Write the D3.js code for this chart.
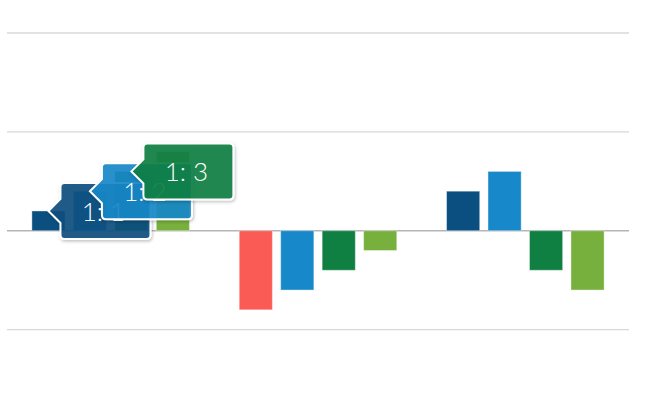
<!DOCTYPE html>
<html>
<head>
<meta charset="utf-8">
<script src="https://cdn.jsdelivr.net/npm/d3@7"></script>
<style>
    body { margin: 0; background: #fff; }
    svg { display: block; font-family: "Lato", "Open Sans", sans-serif; }
</style>
</head>
<body>
<div class="chart"></div>
<script>
// chart data
const categories = ["1", "2", "3"];
const seriesNames = ["Series 1", "Series 2", "Series 3", "Series 4"];
const series1 = [1, -4, 2];
const series2 = [2, -3, 3];
const series3 = [3, -2, -2];
const series4 = [4, -1, -3];
const allSeries = [series1, series2, series3, series4];
const gridValues = [-5, 0, 5, 10];

// tooltips that are open on the first category
const tooltipCategory = "1";
const tooltipSeries = [0, 1, 2];

const colors = ["#0b4f80", "#1788c9", "#108042", "#78b03e"];
const negativeColor = ["#fa5b55", null, null, null];

const w = 652;
const h = 416;
const plot = { left: 7, right: 629, top: 33, bottom: 329.6 };

const svg = d3.select(".chart")
    .append("svg")
    .attr("width", w)
    .attr("height", h);

const defs = svg.append("defs");
const shadow = defs.append("filter")
    .attr("id", "tipShadow")
    .attr("x", "-20%").attr("y", "-20%")
    .attr("width", "150%").attr("height", "160%");
shadow.append("feDropShadow")
    .attr("dx", 1).attr("dy", 1.5)
    .attr("stdDeviation", 1.5)
    .attr("flood-color", "#000")
    .attr("flood-opacity", 0.25);

const yScale = d3.scaleLinear()
    .domain([-5, 10])
    .range([plot.bottom, plot.top]);

const x0 = d3.scaleBand()
    .domain(categories)
    .range([plot.left, plot.right]);

const bw = x0.bandwidth();
const x1 = d3.scaleBand()
    .domain(seriesNames)
    .range([bw * 0.1, bw * 0.9])
    .paddingInner(0.2)
    .paddingOuter(0.1);

// grid lines
svg.append("g")
    .selectAll("line")
    .data(gridValues)
    .enter()
    .append("line")
    .attr("x1", plot.left)
    .attr("x2", plot.right)
    .attr("y1", d => yScale(d))
    .attr("y2", d => yScale(d))
    .attr("stroke", d => d === 0 ? "#b5b5b5" : "#d8d8d8")
    .attr("stroke-width", d => d === 0 ? 1.6 : 1.3);

// bars
const barData = [];
allSeries.forEach((vals, si) => {
    vals.forEach((v, ci) => {
        barData.push({ cat: categories[ci], s: si, value: v });
    });
});

svg.append("g")
    .selectAll("rect")
    .data(barData)
    .enter()
    .append("rect")
    .attr("x", d => x0(d.cat) + x1(seriesNames[d.s]))
    .attr("width", x1.bandwidth())
    .attr("y", d => yScale(Math.max(0, d.value)))
    .attr("height", d => Math.abs(yScale(d.value) - yScale(0)))
    .attr("fill", d => (d.value < 0 && negativeColor[d.s]) ? negativeColor[d.s] : colors[d.s])
    .attr("stroke", "#fff")
    .attr("stroke-opacity", 0.4)
    .attr("stroke-width", 1);

// tooltips, pointing left at the top of each bar
const tipW = 90;
const tipH = 56;
const tail = 12;
const r = 4;

function tipPath(px, py) {
    const l = px + tail, t = py - tipH / 2, b = py + tipH / 2, rt = l + tipW;
    return `M${l + r},${t} L${rt - r},${t} Q${rt},${t} ${rt},${t + r}` +
        ` L${rt},${b - r} Q${rt},${b} ${rt - r},${b} L${l + r},${b} Q${l},${b} ${l},${b - r}` +
        ` L${l},${py + tail} L${px},${py} L${l},${py - tail} L${l},${t + r} Q${l},${t} ${l + r},${t} Z`;
}

const tips = svg.append("g")
    .selectAll("g")
    .data(tooltipSeries.map(si => {
        const ci = categories.indexOf(tooltipCategory);
        return { s: si, value: allSeries[si][ci], cat: tooltipCategory };
    }))
    .enter()
    .append("g")
    .attr("transform", d => {
        const px = x0(d.cat) + x1(seriesNames[d.s]) + x1.bandwidth() / 2;
        const py = yScale(d.value);
        return `translate(${px},${py})`;
    });

tips.append("path")
    .attr("d", tipPath(0, 0))
    .attr("fill", d => colors[d.s])
    .attr("fill-opacity", 0.9)
    .attr("stroke", "#fff")
    .attr("stroke-width", 2)
    .attr("filter", "url(#tipShadow)");

tips.append("text")
    .attr("x", tail + tipW / 2 - 2)
    .attr("y", 10)
    .attr("text-anchor", "middle")
    .attr("fill", "#fff")
    .attr("font-size", "26px")
    .attr("font-weight", 300)
    .text(d => `${d.cat}: ${d.value}`);
</script>
</body>
</html>
